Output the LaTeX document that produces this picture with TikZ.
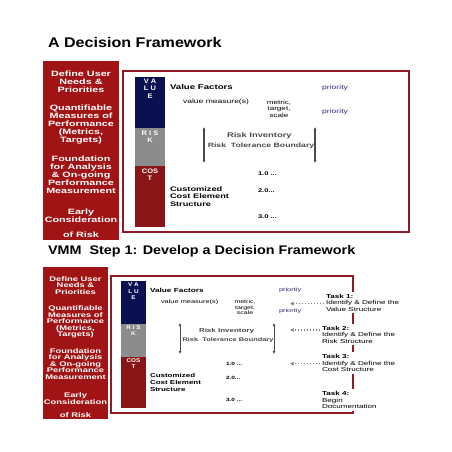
\documentclass[tikz,border=0pt]{standalone}
\usepackage{fontspec}
\setmainfont{Liberation Sans}[FakeStretch=1.4]
\newfontfamily\headfont{Liberation Sans}[FakeStretch=1.15]
\usetikzlibrary{positioning,arrows.meta}
\definecolor{sidered}{HTML}{A11416}
\definecolor{framered}{HTML}{8E1A28}
\definecolor{valueblue}{HTML}{0B1150}
\definecolor{riskgray}{HTML}{8C8C8C}
\definecolor{costred}{HTML}{8A1516}
\definecolor{prionavy}{HTML}{2E2E78}
\definecolor{darkgray}{HTML}{4A4A4A}
\newcommand{\fs}[2]{\fontsize{#1}{#2}\selectfont}

\begin{document}
\begin{tikzpicture}[x=1pt, y=-1pt, inner sep=0pt, outer sep=0pt,
    heading/.style={anchor=west, font=\headfont\bfseries},
    sidebox/.style={rectangle, fill=sidered, anchor=north west},
    sidetext/.style={align=center, text=white, font=\bfseries},
    framebox/.style={rectangle, draw=framered, line width=1.4pt, anchor=north west},
    barpart/.style={rectangle, anchor=north west},
    barlabel/.style={align=center, text=white, font=\headfont\bfseries},
    plain/.style={anchor=west, align=left},
    boldtext/.style={anchor=west, align=left, font=\bfseries},
    riskarrow/.style={{Latex[length=3pt,width=3pt]}-{Latex[length=3pt,width=3pt]}, line width=1.1pt, draw=darkgray},
    taskarrow/.style={-{Latex[length=3.5pt,width=4pt]}, line width=1.1pt, draw=gray, dash pattern=on 1.5pt off 1.5pt},
    task/.style={anchor=west, align=left, fill=white, inner sep=2pt, font=\fs{5.8}{6.5}}]
    \path[fill=white] (0,0) rectangle (452,452);
    \useasboundingbox (0,0) rectangle (452,452);

    % Top panel
    \node[heading, font=\headfont\bfseries\fs{14}{16}] (title1) at (48,42) {A Decision Framework};
    \node[sidebox, minimum width=76pt, minimum height=179pt] (side1) at (43,61) {};
    \node[sidetext, font=\bfseries\fs{7.7}{8}] (needs1) at (81,82) {Define User\\Needs \&\\Priorities};
    \node[sidetext, font=\bfseries\fs{7.7}{8}] (measures1) at (81,125) {Quantifiable\\Measures of\\Performance\\(Metrics,\\Targets)};
    \node[sidetext, font=\bfseries\fs{7.7}{8}] (found1) at (81,174.5) {Foundation\\for Analysis\\\& On-going\\Performance\\Measurement};
    \node[sidetext, font=\bfseries\fs{7.7}{7.5}] (early1) at (81,223.5) {Early\\Consideration\\[8pt]of Risk};

    \node[framebox, minimum width=286pt, minimum height=161pt] (frame1) at (123,71) {};
    \node[barpart, fill=valueblue, minimum width=30pt, minimum height=51pt] (value1) at (135,77) {};
    \node[barpart, fill=riskgray, minimum width=30pt, minimum height=38pt, below=0pt of value1] (risk1) {};
    \node[barpart, fill=costred, minimum width=30pt, minimum height=61pt, below=0pt of risk1] (cost1) {};
    \node[barlabel, font=\headfont\bfseries\fs{6.5}{7.5}, below=2pt of value1.north] (vlab1) {V A\\L U\\E};
    \node[barlabel, font=\headfont\bfseries\fs{6.5}{7}, below=2.5pt of risk1.north] (rlab1) {R I S\\K};
    \node[barlabel, font=\headfont\bfseries\fs{6.5}{7}, below=2.5pt of cost1.north] (clab1) {COS\\T};

    \node[boldtext, font=\bfseries\fs{6.9}{8}] (vf1) at (170,87) {Value Factors};
    \node[plain, text=prionavy, font=\fs{6.2}{7}] (prio1a) at (322,88) {priority};
    \node[plain, text=prionavy, font=\fs{6.2}{7}] (prio1b) at (322,112) {priority};
    \node[plain, font=\fs{6.1}{7}] (vm1) at (183,102) {value measure(s)};
    \node[align=center, font=\fs{5.8}{6.5}] (metric1) at (279,108.5) {metric,\\target,\\scale};
    \node[boldtext, text=darkgray, font=\bfseries\fs{6.7}{8}] (inv1) at (227,136) {Risk Inventory};
    \node[text=darkgray, font=\bfseries\fs{6.2}{8}] (tol1) at (261,146) {Risk\ \ Tolerance Boundary};
    \coordinate (ra1) at (204,127);
    \coordinate (rb1) at (204,163);
    \coordinate (rc1) at (315,127);
    \coordinate (rd1) at (315,163);
    \draw[riskarrow] (ra1) -- (rb1);
    \draw[riskarrow] (rc1) -- (rd1);
    \node[boldtext, font=\bfseries\fs{5.4}{6}] (n1a) at (258,174) {1.0 ...};
    \node[boldtext, font=\bfseries\fs{5.4}{6}] (n1b) at (258,191) {2.0...};
    \node[boldtext, font=\bfseries\fs{5.4}{6}] (n1c) at (258,217) {3.0 ...};
    \node[boldtext, font=\bfseries\fs{6.6}{7.5}] (cces1) at (170,196.5) {Customized\\Cost Element\\Structure};

    % Bottom panel
    \node[heading, font=\headfont\bfseries\fs{12.5}{14}] (title2) at (48,251) {VMM\ \ Step 1: Develop a Decision Framework};
    \node[sidebox, minimum width=65pt, minimum height=152pt] (side2) at (43,267) {};
    \node[sidetext, font=\bfseries\fs{6.7}{6.6}] (needs2) at (75.5,285.5) {Define User\\Needs \&\\Priorities};
    \node[sidetext, font=\bfseries\fs{6.7}{6.6}] (measures2) at (75.5,322) {Quantifiable\\Measures of\\Performance\\(Metrics,\\Targets)};
    \node[sidetext, font=\bfseries\fs{6.7}{6.6}] (found2) at (75.5,364) {Foundation\\for Analysis\\\& On-going\\Performance\\Measurement};
    \node[sidetext, font=\bfseries\fs{6.7}{6.6}] (early2) at (75.5,405) {Early\\Consideration\\[6.4pt]of Risk};

    \node[framebox, line width=1.2pt, minimum width=242pt, minimum height=137pt] (frame2) at (111,276) {};
    \node[barpart, fill=valueblue, minimum width=25pt, minimum height=43pt] (value2) at (121,281) {};
    \node[barpart, fill=riskgray, minimum width=25pt, minimum height=33pt, below=0pt of value2] (risk2) {};
    \node[barpart, fill=costred, minimum width=25pt, minimum height=51pt, below=0pt of risk2] (cost2) {};
    \node[barlabel, font=\headfont\bfseries\fs{5.5}{6.5}, below=2pt of value2.north] (vlab2) {V A\\L U\\E};
    \node[barlabel, font=\headfont\bfseries\fs{5.5}{6}, below=2pt of risk2.north] (rlab2) {R I S\\K};
    \node[barlabel, font=\headfont\bfseries\fs{5.5}{6}, below=2pt of cost2.north] (clab2) {COS\\T};

    \node[boldtext, font=\bfseries\fs{5.9}{7}] (vf2) at (150,290) {Value Factors};
    \node[plain, text=prionavy, font=\fs{5.3}{6}] (prio2a) at (279,290) {priority};
    \node[plain, text=prionavy, font=\fs{5.3}{6}] (prio2b) at (279,311) {priority};
    \node[plain, font=\fs{5.3}{6}] (vm2) at (161,302) {value measure(s)};
    \node[align=center, font=\fs{5}{5.5}] (metric2) at (245,307.5) {metric,\\target,\\scale};
    \node[boldtext, text=darkgray, font=\bfseries\fs{5.7}{7}] (inv2) at (199,331) {Risk Inventory};
    \node[text=darkgray, font=\bfseries\fs{5.3}{7}] (tol2) at (228,340) {Risk\ \ Tolerance Boundary};
    \coordinate (ra2) at (180,323);
    \coordinate (rb2) at (180,354);
    \coordinate (rc2) at (274,323);
    \coordinate (rd2) at (274,354);
    \draw[riskarrow, line width=1pt] (ra2) -- (rb2);
    \draw[riskarrow, line width=1pt] (rc2) -- (rd2);
    \node[boldtext, font=\bfseries\fs{4.6}{5}] (n2a) at (226,364) {1.0 ...};
    \node[boldtext, font=\bfseries\fs{4.6}{5}] (n2b) at (226,378) {2.0...};
    \node[boldtext, font=\bfseries\fs{4.6}{5}] (n2c) at (226,400) {3.0 ...};
    \node[boldtext, font=\bfseries\fs{5.7}{6.6}] (cces2) at (150,382.5) {Customized\\Cost Element\\Structure};

    % Tasks
    \node[task] (task1) at (324,302.7) {\textbf{Task 1:}\\Identify \& Define the\\Value Structure};
    \node[task] (task2) at (320,334.7) {\textbf{Task 2:}\\Identify \& Define the\\Risk Structure};
    \node[task] (task3) at (320,363) {\textbf{Task 3:}\\Identify \& Define the\\Cost Structure};
    \node[task] (task4) at (320,400) {\textbf{Task 4:}\\Begin\\Documentation};
    \coordinate (a1) at (290,303.7);
    \coordinate (a2) at (290,330);
    \coordinate (a3) at (290,363.7);
    \draw[taskarrow] (task1.west |- a1) -- (a1);
    \draw[taskarrow] (task2.west |- a2) -- (a2);
    \draw[taskarrow] (task3.west |- a3) -- (a3);
\end{tikzpicture}
\end{document}
